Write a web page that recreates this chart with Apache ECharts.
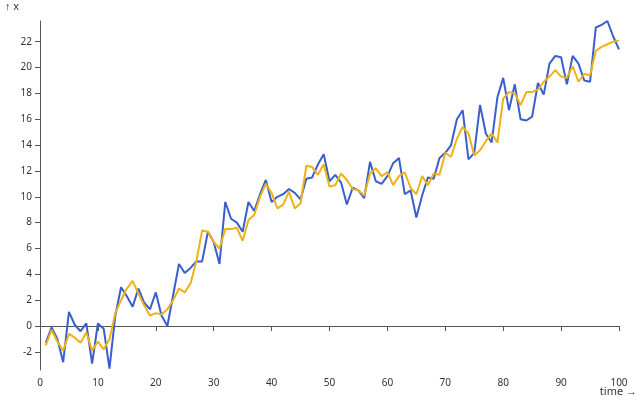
<!DOCTYPE html><html><head><meta charset="utf-8">
<script src="https://cdn.jsdelivr.net/npm/echarts@6/dist/echarts.min.js"></script>
<style>body{margin:0}#c{width:640px;height:400px}</style></head><body><div id="c"></div>
<script>
const blue=[-1.3,-0.1,-1.0,-2.8,1.1,0.1,-0.4,0.2,-2.9,0.2,-0.2,-3.3,0.8,3.0,2.3,1.5,2.9,1.8,1.3,2.6,0.8,0.0,2.4,4.8,4.1,4.5,5.0,5.0,7.3,6.5,4.8,9.6,8.3,8.0,7.3,9.6,8.9,10.2,11.3,9.6,10.0,10.2,10.6,10.3,9.8,11.4,11.5,12.5,13.3,11.2,11.7,11.1,9.4,10.7,10.5,9.9,12.7,11.2,11.0,11.6,12.6,13.0,10.2,10.5,8.4,10.1,11.5,11.4,13.0,13.4,14.0,16.0,16.7,12.9,13.4,17.1,14.9,14.2,17.7,19.2,16.7,18.7,16.0,15.9,16.2,18.8,17.9,20.3,20.9,20.8,18.7,20.9,20.3,19.0,18.9,23.1,23.3,23.6,22.4,21.4];
const orange=[-1.5,-0.3,-1.2,-1.9,-0.6,-0.9,-1.3,-0.5,-1.9,-1.2,-1.8,-1.0,1.0,2.0,2.9,3.5,2.5,1.6,0.8,1.0,0.9,1.3,2.0,2.9,2.6,3.3,5.0,7.4,7.3,6.5,6.0,7.5,7.5,7.6,6.6,8.2,8.6,10.0,11.0,10.3,9.1,9.4,10.4,9.1,9.5,12.4,12.3,11.7,12.5,10.8,10.9,11.8,11.3,10.6,10.5,10.1,11.8,12.2,11.6,11.9,10.9,11.6,11.9,10.7,10.2,11.6,10.9,11.8,11.7,13.4,13.1,14.5,15.4,14.9,13.2,13.6,14.3,14.9,14.2,17.6,18.1,18.0,17.1,18.1,18.1,18.3,18.9,19.3,19.8,19.3,19.2,20.1,18.9,19.5,19.4,21.3,21.6,21.8,22.0,22.1];
const times=blue.map((_,i)=>i+1);
const chart=echarts.init(document.getElementById('c'));
const tf={fontSize:11,fontFamily:'Noto Sans',fill:'#333'};
chart.setOption({animation:false,
grid:{left:40,right:21,top:21,bottom:30},
graphic:[
 {type:'text',left:5,top:1,style:Object.assign({text:'↑ x'},tf)},
 {type:'text',right:3,top:386,style:Object.assign({text:'time →'},tf)}
],
xAxis:{type:'value',min:0,max:100,interval:10,
 axisLine:{lineStyle:{color:'#555'}},axisTick:{lineStyle:{color:'#555'}},splitLine:{show:false},
 axisLabel:{color:'#333',fontSize:10,fontFamily:'Noto Sans'}},
yAxis:{type:'value',min:-3.4,max:23.6,splitNumber:13,
 axisLine:{show:true,lineStyle:{color:'#555'}},axisTick:{show:true,lineStyle:{color:'#555'}},splitLine:{show:false},
 axisLabel:{color:'#333',fontSize:10,fontFamily:'Noto Sans',showMinLabel:false,showMaxLabel:false}},
series:[
 {type:'line',data:times.map((t,i)=>[t,blue[i]]),showSymbol:false,lineStyle:{color:'#3a5fcd',width:2},itemStyle:{color:'#3a5fcd'}},
 {type:'line',data:times.map((t,i)=>[t,orange[i]]),showSymbol:false,lineStyle:{color:'#efb118',width:2},itemStyle:{color:'#efb118'}}
]});
</script></body></html>
